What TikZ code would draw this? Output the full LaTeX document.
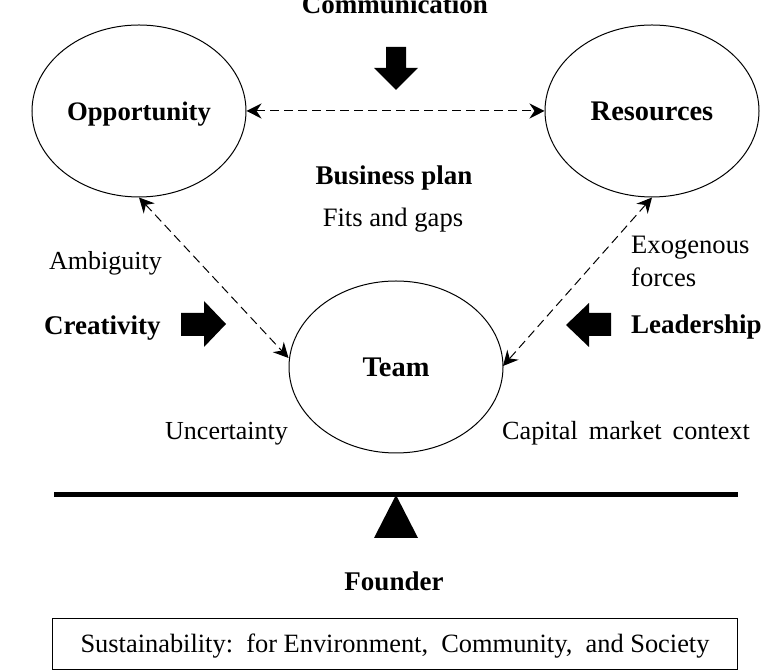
\documentclass[tikz,border=0pt]{standalone}
\usepackage{fontspec}
\setmainfont{Liberation Serif}
\usetikzlibrary{arrows.meta,shapes.geometric}
\tikzset{
 circ/.style={draw,ellipse,minimum width=214bp,minimum height=172bp,line width=1bp,inner sep=0pt,text height=25bp,text depth=5bp,font=\fontsize{26.7bp}{32bp}\selectfont\bfseries},
 circb/.style={circ,font=\fontsize{28.4bp}{32bp}\selectfont\bfseries},
 lab/.style={inner sep=0pt,anchor=base west,font=\fontsize{26.6bp}{33bp}\selectfont},
 labs/.style={lab,font=\fontsize{26bp}{33bp}\selectfont},
 clab/.style={lab,anchor=base},
 blab/.style={lab,font=\fontsize{27bp}{32bp}\selectfont\bfseries},
 cblab/.style={blab,anchor=base},
 link/.style={dash pattern=on 9bp off 5bp,line width=1bp,{Stealth[length=15bp,width=15bp,inset=5bp]}-{Stealth[length=15bp,width=15bp,inset=5bp]}},
}
\begin{document}
\begin{tikzpicture}[x=1bp,y=1bp]
\useasboundingbox (0,0) rectangle (771,672);
\fill[white] (0,0) rectangle (771,672);
\node[circ] (opp) at (139,561) {Opportunity};
\node[circb] (res) at (652,561) {Resources};
\node[circb] (team) at (396,305) {Team};
\draw[link] (opp.east) -- (res.west);
\coordinate (oa) at (opp.south);
\coordinate (ra) at (res.south);
\coordinate (tl) at (288.5,314);
\coordinate (tr) at (503,306);
\draw[link] (oa) -- (tl);
\draw[link] (ra) -- (tr);
\node[cblab] (comm) at (395,658) {Communication};
\node[cblab] (bp) at (394,487) {Business plan};
\node[clab] (fg) at (393,445) {Fits and gaps};
\node[labs] (amb) at (49,402) {Ambiguity};
\node[blab] (cre) at (44,337) {Creativity};
\node[lab] (exo) at (631,418) {Exogenous};
\node[lab] (forc) at (631,385) {forces};
\node[blab] (lea) at (631,338) {Leadership};
\node[labs] (unc) at (165,232) {Uncertainty};
\node[lab,font=\fontsize{26.2bp}{33bp}\selectfont] (cap) at (502,232) {Capital\hspace{4.5bp} market\hspace{4.5bp} context};
\node[cblab] (fou) at (394,81) {Founder};
\node[draw,line width=1bp,minimum width=684bp,minimum height=51bp,inner sep=0pt,text height=22bp,text depth=5bp,font=\fontsize{26.4bp}{32bp}\selectfont] (sus) at (395,27.5) {Sustainability:\ \ for Environment,\ \ Community,\ \ and Society};
\fill (54,175) rectangle (738,180);
\fill (396,177) -- (374,134) -- (418,134) -- cycle;
\fill (386,625) -- (406,625) -- (406,604) -- (418,604) -- (396,582) -- (374,604) -- (386,604) -- cycle;
\fill (181,359) -- (204,359) -- (204,371) -- (226,348) -- (204,325) -- (204,336) -- (181,336) -- cycle;
\fill (611,359) -- (589,359) -- (589,369) -- (566,347) -- (589,325) -- (589,336) -- (611,336) -- cycle;
\end{tikzpicture}
\end{document}
